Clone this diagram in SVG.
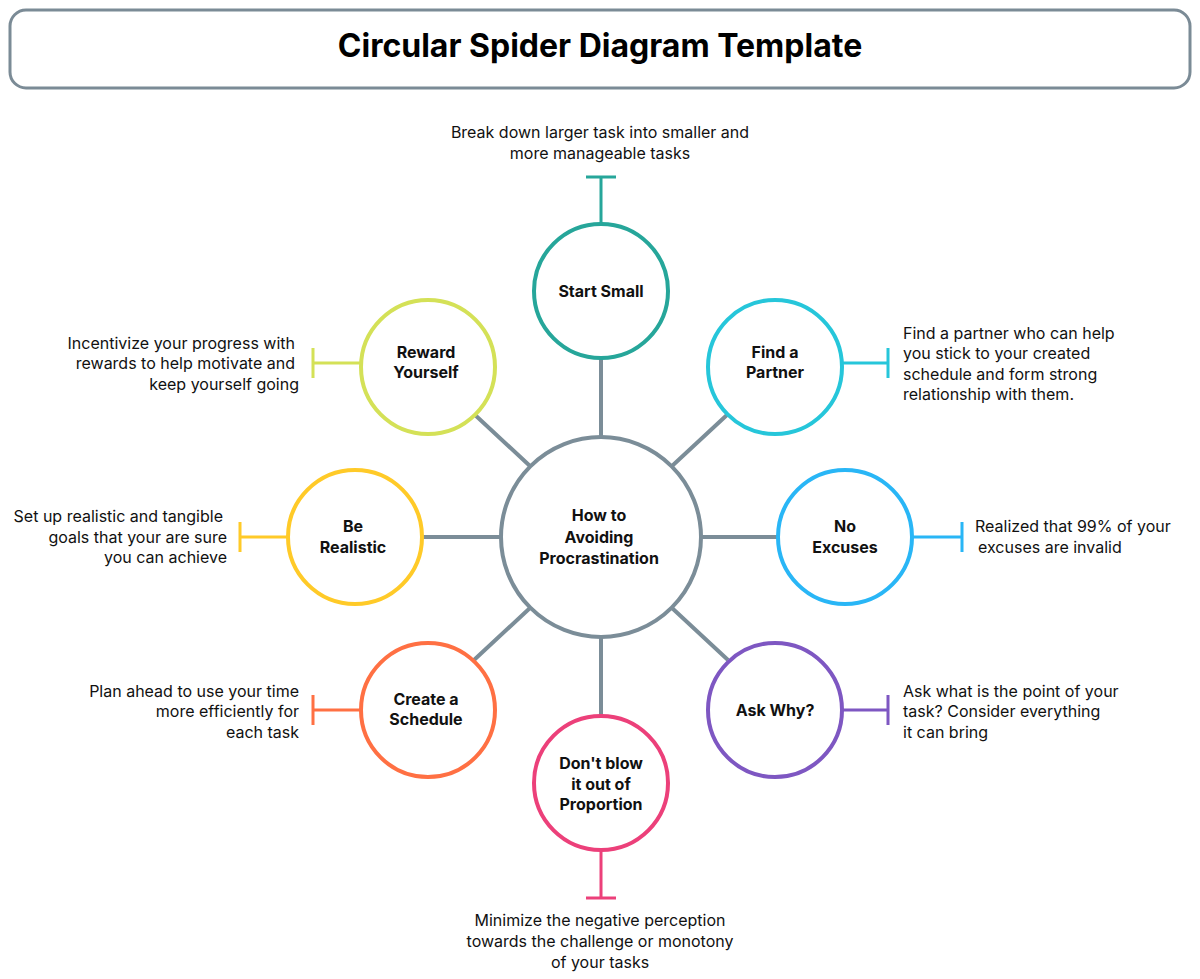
<svg xmlns="http://www.w3.org/2000/svg" width="1200" height="979" viewBox="0 0 1200 979">
<style>
.t{font-family:Inter,"Liberation Sans",sans-serif;font-size:16px;fill:#111}
.b{font-family:Inter,"Liberation Sans",sans-serif;font-size:16px;font-weight:bold;fill:#111;text-anchor:middle}
.n{fill:#fff;stroke-width:4}
.g{stroke:#7b8d98;stroke-width:4;fill:none}
.c{stroke-width:3;fill:none}
</style>
<rect width="1200" height="979" fill="#fff"/>
<g id="title"><rect x="10" y="10" width="1180" height="78" rx="16" fill="#fff" stroke="#7b8b96" stroke-width="3"/>
<text x="600" y="57" style="font-family:Inter,'Liberation Sans',sans-serif;font-size:32px;font-weight:bold;text-anchor:middle">Circular Spider Diagram Template</text></g>
<g id="connectors">
<path class="g" d="M601 437V358M672 466L728 414M701 537H778M672 608L728 660M601 637V716M530 608L474 660M501 537H422M530 466L474 414"/>
<path class="c" stroke="#26a69a" d="M601 224V177M586 177H616"/>
<path class="c" stroke="#26c6da" d="M842 363H888M888 348V378"/>
<path class="c" stroke="#29b6f6" d="M912 537H962M962 522V552"/>
<path class="c" stroke="#7e57c2" d="M842 710H888M888 695V725"/>
<path class="c" stroke="#ec407a" d="M601 850V898M586 898H616"/>
<path class="c" stroke="#ff7043" d="M361 710H313M313 695V725"/>
<path class="c" stroke="#ffca28" d="M288 537H240M240 522V552"/>
<path class="c" stroke="#d4e157" d="M361 363H313M313 348V378"/>
</g>
<g id="center"><circle class="n" cx="601" cy="537" r="100" stroke="#7b8d98"/><text class="b"><tspan x="599" y="521">How to</tspan><tspan x="599" y="543">Avoiding</tspan><tspan x="599" y="564">Procrastination</tspan></text></g>
<g id="start"><circle class="n" cx="601" cy="291" r="67" stroke="#26a69a"/><text class="b" x="601" y="297">Start Small</text>
<text class="t" text-anchor="middle"><tspan x="600" y="138">Break down larger task into smaller and</tspan><tspan x="600" y="159">more manageable tasks</tspan></text></g>
<g id="partner"><circle class="n" cx="775" cy="367" r="67" stroke="#26c6da"/><text class="b"><tspan x="775" y="358">Find a</tspan><tspan x="775" y="378">Partner</tspan></text>
<text class="t"><tspan x="903" y="339">Find a partner who can help</tspan><tspan x="903" y="359">you stick to your created</tspan><tspan x="903" y="380">schedule and form strong</tspan><tspan x="903" y="400">relationship with them.</tspan></text></g>
<g id="excuses"><circle class="n" cx="845" cy="537" r="67" stroke="#29b6f6"/><text class="b"><tspan x="845" y="532">No</tspan><tspan x="845" y="553">Excuses</tspan></text>
<text class="t"><tspan x="975" y="532">Realized that 99% of your</tspan><tspan x="978" y="553">excuses are invalid</tspan></text></g>
<g id="why"><circle class="n" cx="775" cy="710" r="67" stroke="#7e57c2"/><text class="b" x="775" y="716">Ask Why?</text>
<text class="t"><tspan x="903" y="697">Ask what is the point of your</tspan><tspan x="903" y="717">task? Consider everything</tspan><tspan x="903" y="738">it can bring</tspan></text></g>
<g id="proportion"><circle class="n" cx="601" cy="783" r="67" stroke="#ec407a"/><text class="b"><tspan x="601" y="769">Don't blow</tspan><tspan x="601" y="790">it out of</tspan><tspan x="601" y="810">Proportion</tspan></text>
<text class="t" text-anchor="middle"><tspan x="600" y="926">Minimize the negative perception</tspan><tspan x="600" y="947">towards the challenge or monotony</tspan><tspan x="600" y="968">of your tasks</tspan></text></g>
<g id="schedule"><circle class="n" cx="428" cy="710" r="67" stroke="#ff7043"/><text class="b"><tspan x="426" y="705">Create a</tspan><tspan x="426" y="725">Schedule</tspan></text>
<text class="t" text-anchor="end"><tspan x="299" y="697">Plan ahead to use your time</tspan><tspan x="299" y="717">more efficiently for</tspan><tspan x="299" y="738">each task</tspan></text></g>
<g id="realistic"><circle class="n" cx="355" cy="537" r="67" stroke="#ffca28"/><text class="b"><tspan x="353" y="532">Be</tspan><tspan x="353" y="553">Realistic</tspan></text>
<text class="t" text-anchor="end"><tspan x="223" y="522">Set up realistic and tangible</tspan><tspan x="227" y="543">goals that your are sure</tspan><tspan x="227" y="563">you can achieve</tspan></text></g>
<g id="reward"><circle class="n" cx="428" cy="367" r="67" stroke="#d4e157"/><text class="b"><tspan x="426" y="358">Reward</tspan><tspan x="426" y="378">Yourself</tspan></text>
<text class="t" text-anchor="end"><tspan x="295" y="349">Incentivize your progress with</tspan><tspan x="295" y="369">rewards to help motivate and</tspan><tspan x="299" y="390">keep yourself going</tspan></text></g>
</svg>
